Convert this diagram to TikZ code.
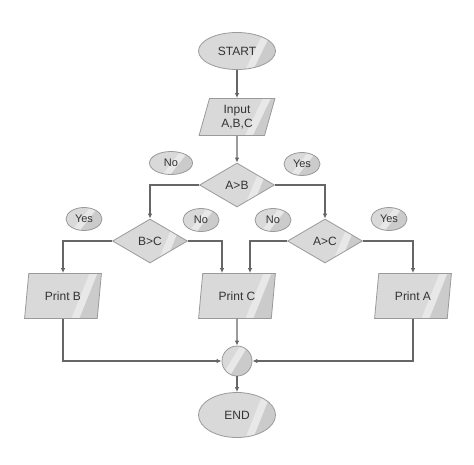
\documentclass[tikz,border=0pt]{standalone}
\usepackage{fontspec}
\setmainfont{Liberation Sans}
\usetikzlibrary{shapes.geometric,arrows.meta}
\definecolor{boxfill}{HTML}{D9D9D9}
\definecolor{boxdraw}{HTML}{9A9A9A}
\definecolor{linegray}{HTML}{666666}
\definecolor{txtgray}{HTML}{333333}
\begin{document}
\begin{tikzpicture}[x=1pt,y=-1pt]
    \tikzset{% styles for the flowchart
    gloss/.style={fill=boxfill,draw=boxdraw,line width=0.8pt,text=txtgray,
        font=\fontsize{12}{14}\selectfont,align=center,
        path picture={
        \fill[white,opacity=.4] ([xshift=-30pt]path picture bounding box.south east) -- ([xshift=-22pt]path picture bounding box.south east) -- ([xshift=-4pt]path picture bounding box.north east) -- ([xshift=-12pt]path picture bounding box.north east) -- cycle;
        \fill[gray,opacity=.15] ([xshift=-22pt]path picture bounding box.south east) -- (path picture bounding box.south east) -- (path picture bounding box.north east) -- ([xshift=-4pt]path picture bounding box.north east) -- cycle;
        }},
    term/.style={gloss,ellipse,minimum width=77pt,inner sep=0pt},
    io/.style={gloss,trapezium,trapezium left angle=76,trapezium right angle=104,
        trapezium stretches=true,minimum width=77pt,inner sep=0pt},
    cond/.style={gloss,diamond,minimum width=75pt,minimum height=44pt,inner sep=0pt},
    tag/.style={gloss,ellipse,minimum height=23pt,inner sep=0pt,
        font=\fontsize{11}{13}\selectfont},
    link/.style={draw=linegray,line width=1.1pt,-{Latex[length=5pt,width=4.5pt]}},
    }
    \useasboundingbox (0,0) rectangle (474,464);
    % Nodes
    \node[term,minimum height=37pt] (start) at (237,51) {START};
    \node[io,minimum height=37pt,minimum width=76pt] (input) at (237,117) {Input\\A,B,C};
    \node[cond] (ab) at (237,185) {A>B};
    \node[tag,minimum width=43pt] (no1) at (171,163) {No};
    \node[tag,minimum width=36pt] (yes1) at (302,164) {Yes};
    \node[cond] (bc) at (150,241) {B>C};
    \node[cond] (ac) at (325,241) {A>C};
    \node[tag,minimum width=36pt] (yes2) at (84,219) {Yes};
    \node[tag,minimum width=36pt] (no2) at (201,220) {No};
    \node[tag,minimum width=36pt] (no3) at (273,220) {No};
    \node[tag,minimum width=36pt] (yes3) at (389,219) {Yes};
    \node[io,minimum height=45pt] (printb) at (63,296) {Print B};
    \node[io,minimum height=45pt] (printc) at (237,296) {Print C};
    \node[io,minimum height=45pt] (printa) at (413,296) {Print A};
    \node[gloss,circle,minimum size=30pt,inner sep=0pt] (join) at (237,361) {};
    \node[term,minimum height=45pt] (end) at (237,415) {END};

    %Edges
    \draw[link] (start) -- (input);
    \draw[link] (input) -- (ab);
    \draw[link] (ab.west) -| (bc.north);
    \draw[link] (ab.east) -| (ac.north);
    \draw[link] (bc.west) -| (printb.north);
    \draw[link] (bc.east) -| ([xshift=-15pt]printc.north);
    \draw[link] (ac.west) -| ([xshift=13pt]printc.north);
    \draw[link] (ac.east) -| (printa.north);
    \draw[link] (printb.south) |- (join.west);
    \draw[link] (printc.south) -- (join.north);
    \draw[link] (printa.south) |- (join.east);
    \draw[link] (join) -- (end);

\end{tikzpicture}
\end{document}
